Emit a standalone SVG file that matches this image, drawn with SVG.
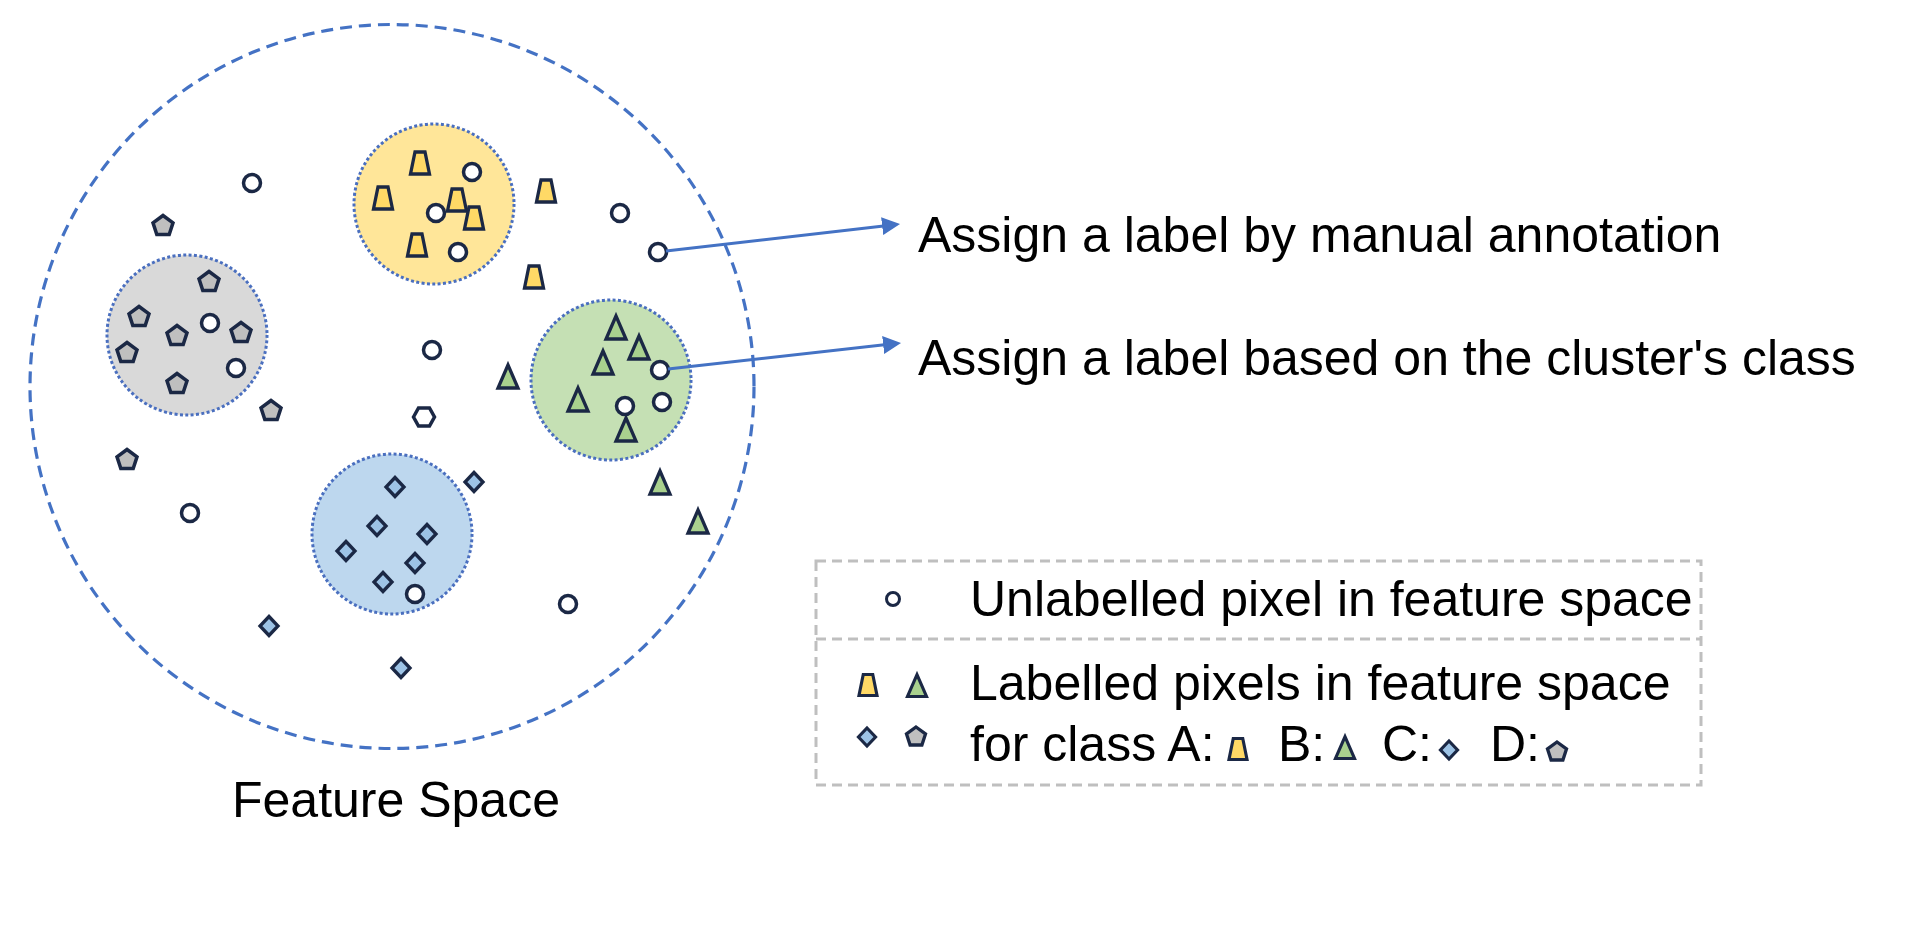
<svg xmlns="http://www.w3.org/2000/svg" xmlns:xlink="http://www.w3.org/1999/xlink" width="1932" height="948" viewBox="0 0 1932 948">
<style>
  .txt { font-family: "Liberation Sans", Arial, sans-serif; font-size: 50px; fill: #000; }
  .outer { fill: none; stroke: #4472C4; stroke-width: 3.2; stroke-dasharray: 12 7; }
  .cluster { stroke: #4A6FBF; stroke-width: 3; stroke-dasharray: 3 2.4; }
  .cl-a { fill: #FFE699; }
  .cl-b { fill: #C5E0B4; }
  .cl-c { fill: #BDD7EE; }
  .cl-d { fill: #D9D9D9; }
  .legend-box { fill: none; stroke: #BFBFBF; stroke-width: 3; stroke-dasharray: 10 6; }
  .conn { fill: none; stroke: #4472C4; stroke-width: 3; }
</style>
<defs>
  <circle id="pt-u" r="8.5" fill="#FFFFFF" stroke="#1B2845" stroke-width="3.5"/>
  <path id="pt-a" d="M-5,-11 H5 L9.5,11 H-9.5 Z" fill="#FFD966" stroke="#1B2845" stroke-width="3.3"/>
  <path id="pt-b" d="M0,-12 L10,11 H-10 Z" fill="#A9D18E" stroke="#1B2845" stroke-width="3.3"/>
  <path id="pt-c" d="M0,-9.5 L9,0 L0,9.5 L-9,0 Z" fill="#9DC3E6" stroke="#1B2845" stroke-width="3.3"/>
  <path id="pt-d" d="M0,-9.5 L10,-2.2 L6.2,9.5 H-6.2 L-10,-2.2 Z" fill="#BFBFBF" stroke="#1B2845" stroke-width="3.5"/>
  <path id="pt-h" d="M-10.5,0 L-5.5,-9 H5.5 L10.5,0 L5.5,9 H-5.5 Z" fill="#FFFFFF" stroke="#1B2845" stroke-width="3.5"/>
  <marker id="arrow" markerUnits="userSpaceOnUse" markerWidth="18" markerHeight="18" viewBox="0 0 18 18" refX="8" refY="9" orient="auto">
    <path d="M0,0 L18,9 L0,18 Z" fill="#4472C4"/>
  </marker>
</defs>

<g id="feature-space">
  <circle class="outer" cx="392" cy="386.5" r="362"/>
  <text class="txt" x="396" y="817" text-anchor="middle">Feature Space</text>
</g>

<g id="cluster-a">
  <circle class="cluster cl-a" cx="434" cy="204" r="80"/>
  <use href="#pt-a" x="420" y="163"/>
  <use href="#pt-a" x="383" y="198"/>
  <use href="#pt-a" x="457" y="200"/>
  <use href="#pt-a" x="474" y="218"/>
  <use href="#pt-a" x="417" y="245"/>
  <use href="#pt-u" x="472" y="172"/>
  <use href="#pt-u" x="436" y="213"/>
  <use href="#pt-u" x="458" y="252"/>
</g>

<g id="cluster-d">
  <circle class="cluster cl-d" cx="187" cy="335" r="80"/>
  <use href="#pt-d" x="209" y="281"/>
  <use href="#pt-d" x="139" y="316"/>
  <use href="#pt-d" x="177" y="335"/>
  <use href="#pt-d" x="241" y="332"/>
  <use href="#pt-d" x="127" y="352"/>
  <use href="#pt-d" x="177" y="383"/>
  <use href="#pt-u" x="210" y="323"/>
  <use href="#pt-u" x="236" y="368"/>
</g>

<g id="cluster-b">
  <circle class="cluster cl-b" cx="611" cy="380" r="80"/>
  <use href="#pt-b" x="616" y="328"/>
  <use href="#pt-b" x="639" y="348"/>
  <use href="#pt-b" x="603" y="363"/>
  <use href="#pt-b" x="578" y="400"/>
  <use href="#pt-b" x="626" y="430"/>
  <use href="#pt-u" x="660" y="370"/>
  <use href="#pt-u" x="625" y="406"/>
  <use href="#pt-u" x="662" y="402"/>
</g>

<g id="cluster-c">
  <circle class="cluster cl-c" cx="392" cy="534" r="80"/>
  <use href="#pt-c" x="395" y="487"/>
  <use href="#pt-c" x="377" y="526"/>
  <use href="#pt-c" x="427" y="534"/>
  <use href="#pt-c" x="346" y="551"/>
  <use href="#pt-c" x="415" y="563"/>
  <use href="#pt-c" x="383" y="582"/>
  <use href="#pt-u" x="415" y="594"/>
</g>

<g id="scattered-points">
  <use href="#pt-u" x="252" y="183"/>
  <use href="#pt-u" x="620" y="213"/>
  <use href="#pt-u" x="658" y="252"/>
  <use href="#pt-u" x="432" y="350"/>
  <use href="#pt-u" x="190" y="513"/>
  <use href="#pt-u" x="568" y="604"/>
  <use href="#pt-h" x="424" y="417"/>
  <use href="#pt-a" x="546" y="191"/>
  <use href="#pt-a" x="534" y="277"/>
  <use href="#pt-d" x="163" y="225"/>
  <use href="#pt-d" x="271" y="410"/>
  <use href="#pt-d" x="127" y="459"/>
  <use href="#pt-b" x="508" y="377"/>
  <use href="#pt-b" x="660" y="483"/>
  <use href="#pt-b" x="698" y="522"/>
  <use href="#pt-c" x="474" y="482"/>
  <use href="#pt-c" x="269" y="626"/>
  <use href="#pt-c" x="401" y="668"/>
</g>

<g id="connectors">
  <line class="conn" x1="666" y1="251" x2="890.1" y2="225.2" marker-end="url(#arrow)"/>
  <line class="conn" x1="668" y1="369" x2="891.1" y2="344.1" marker-end="url(#arrow)"/>
</g>

<g id="label-manual">
  <text class="txt" x="918" y="252">Assign a label by manual annotation</text>
</g>
<g id="label-cluster">
  <text class="txt" x="918" y="375">Assign a label based on the cluster's class</text>
</g>

<g id="legend">
  <rect class="legend-box" x="816" y="561" width="885" height="224"/>
  <line class="legend-box" x1="816" y1="639" x2="1701" y2="639"/>
  <circle cx="893" cy="599" r="6.5" fill="#FFFFFF" stroke="#1B2845" stroke-width="3"/>
  <text class="txt" x="970" y="616">Unlabelled pixel in feature space</text>
  <use href="#pt-a" transform="translate(868,685) scale(0.95)"/>
  <use href="#pt-b" transform="translate(917,686) scale(0.95)"/>
  <use href="#pt-c" transform="translate(867,737) scale(0.95)"/>
  <use href="#pt-d" transform="translate(916,736) scale(0.95)"/>
  <text class="txt" x="970" y="700">Labelled pixels in feature space</text>
  <text class="txt" y="761"><tspan x="970">for class A:</tspan><tspan x="1278">B:</tspan><tspan x="1382">C:</tspan><tspan x="1490">D:</tspan></text>
  <use href="#pt-a" transform="translate(1238,749) scale(0.95)"/>
  <use href="#pt-b" transform="translate(1345,748) scale(0.95)"/>
  <use href="#pt-c" transform="translate(1449,750) scale(0.95)"/>
  <use href="#pt-d" transform="translate(1557,751) scale(0.95)"/>
</g>
</svg>
